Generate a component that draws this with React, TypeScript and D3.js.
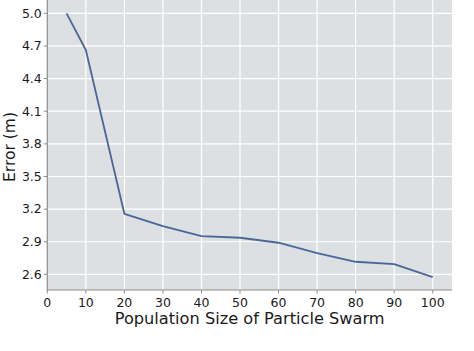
import { useEffect, useRef } from "react";
import * as d3 from "d3";

const popSizes = [5, 10, 20, 30, 40, 50, 60, 70, 80, 90, 100];
const errors = [5.0, 4.663, 3.157, 3.044, 2.952, 2.937, 2.891, 2.795, 2.716, 2.694, 2.575];
const xTicks = [0, 10, 20, 30, 40, 50, 60, 70, 80, 90, 100];
const yTicks = [2.6, 2.9, 3.2, 3.5, 3.8, 4.1, 4.4, 4.7, 5.0];

export default function App() {
  const svgRef = useRef<SVGSVGElement>(null);

  useEffect(() => {
    if (!svgRef.current) return;
    const svg = d3.select(svgRef.current);
    svg.selectAll("*").remove();

    const left = 47.3;
    const right = 452;
    const top = 0;
    const bottom = 290;
    const font = "'DejaVu Sans', sans-serif";

    const x = d3.scaleLinear().domain([0, 105]).range([left, right]);
    const y = d3.scaleLinear().domain([2.4565, 5.1225]).range([bottom, top]);

    svg
      .append("rect")
      .attr("x", left)
      .attr("y", top)
      .attr("width", right - left)
      .attr("height", bottom - top)
      .attr("fill", "#dce0e3");

    // grid
    svg
      .append("g")
      .selectAll("line")
      .data(xTicks)
      .join("line")
      .attr("x1", (d) => x(d))
      .attr("x2", (d) => x(d))
      .attr("y1", top)
      .attr("y2", bottom)
      .attr("stroke", "#ffffff")
      .attr("stroke-width", 1.2);

    svg
      .append("g")
      .selectAll("line")
      .data(yTicks)
      .join("line")
      .attr("x1", left)
      .attr("x2", right)
      .attr("y1", (d) => y(d))
      .attr("y2", (d) => y(d))
      .attr("stroke", "#ffffff")
      .attr("stroke-width", 1.2);

    // the line
    const line = d3
      .line<number>()
      .x((_, i) => x(popSizes[i]))
      .y((d) => y(d));

    svg
      .append("path")
      .datum(errors)
      .attr("d", line)
      .attr("fill", "none")
      .attr("stroke", "#4a6699")
      .attr("stroke-width", 1.8)
      .attr("stroke-linejoin", "round");

    // spines
    svg
      .append("line")
      .attr("x1", left)
      .attr("x2", left)
      .attr("y1", top)
      .attr("y2", bottom)
      .attr("stroke", "#8c8c8c")
      .attr("stroke-width", 1.2);
    svg
      .append("line")
      .attr("x1", left)
      .attr("x2", right)
      .attr("y1", bottom)
      .attr("y2", bottom)
      .attr("stroke", "#8c8c8c")
      .attr("stroke-width", 1.2);

    // y ticks
    const yg = svg.append("g");
    yg.selectAll("line")
      .data(yTicks)
      .join("line")
      .attr("x1", left - 3.5)
      .attr("x2", left)
      .attr("y1", (d) => y(d))
      .attr("y2", (d) => y(d))
      .attr("stroke", "#8c8c8c");
    yg.selectAll("text")
      .data(yTicks)
      .join("text")
      .attr("x", left - 5.5)
      .attr("y", (d) => y(d))
      .attr("dy", "0.35em")
      .attr("text-anchor", "end")
      .attr("font-family", font)
      .attr("font-size", "12.5px")
      .attr("fill", "#1a1a1a")
      .text((d) => d.toFixed(1));

    // x ticks
    const xg = svg.append("g");
    xg.selectAll("line")
      .data(xTicks)
      .join("line")
      .attr("x1", (d) => x(d))
      .attr("x2", (d) => x(d))
      .attr("y1", bottom)
      .attr("y2", bottom + 3.5)
      .attr("stroke", "#8c8c8c");
    xg.selectAll("text")
      .data(xTicks)
      .join("text")
      .attr("x", (d) => x(d))
      .attr("y", bottom + 16.5)
      .attr("text-anchor", "middle")
      .attr("font-family", font)
      .attr("font-size", "12.5px")
      .attr("fill", "#1a1a1a")
      .text((d) => String(d));

    // axis labels
    svg
      .append("text")
      .attr("x", (left + right) / 2)
      .attr("y", 324)
      .attr("text-anchor", "middle")
      .attr("font-family", font)
      .attr("font-size", "16.2px")
      .attr("fill", "#1a1a1a")
      .text("Population Size of Particle Swarm");

    svg
      .append("text")
      .attr("transform", `translate(14.5,${(top + bottom) / 2 + 2}) rotate(-90)`)
      .attr("text-anchor", "middle")
      .attr("font-family", font)
      .attr("font-size", "15.5px")
      .attr("fill", "#1a1a1a")
      .text("Error (m)");
  }, []);

  return (
    <svg
      ref={svgRef}
      width={474}
      height={351}
      style={{ position: "absolute", left: 0, top: 0, background: "#ffffff" }}
    />
  );
}
